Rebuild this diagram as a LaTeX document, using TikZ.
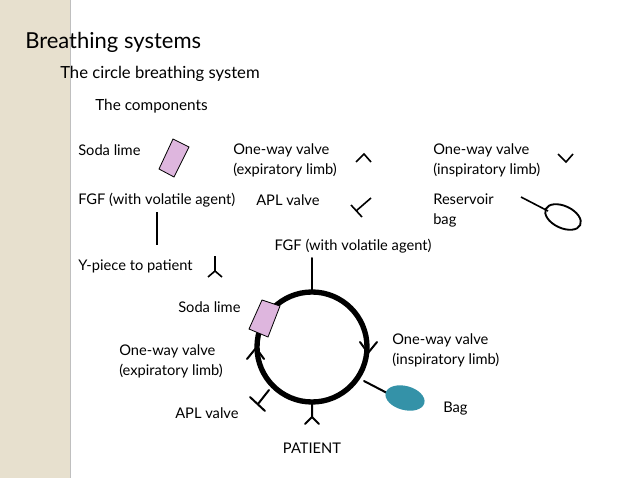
\documentclass[tikz,border=0pt]{standalone}
\usepackage{fontspec}
\setmainfont{Lato}
\usetikzlibrary{positioning}
\definecolor{strip}{RGB}{231,224,206}
\definecolor{lime}{RGB}{222,182,222}
\definecolor{bagcol}{RGB}{52,146,168}
\tikzset{%
  % Specifications for style of nodes:
  lbl/.style = {anchor=west, inner sep=0pt, font=\fontsize{11}{15}\selectfont, align=left},
  pipe/.style = {line width=1.5pt, line cap=round},
  valve/.style = {line width=1.2pt, line join=miter},
}
\begin{document}
\begin{tikzpicture}[x=0.75pt, y=-0.75pt]
  \useasboundingbox (0,0) rectangle (638,478);
  \fill[strip] (0,0) rectangle (70,478);
  \draw[black!25, line width=0.6pt] (70,0) -- (70,478);
  % Titles
  \node (title)[lbl, font=\fontsize{16.5}{18}\selectfont] at (25,42) {Breathing systems};
  \node (sub)[lbl, font=\fontsize{12.5}{14}\selectfont] at (60,74) {The circle breathing system};
  \node (comp)[lbl, font=\fontsize{11.5}{14}\selectfont] at (95,106) {The components};
  % Component legend
  \node (sl)[lbl] at (78,150) {Soda lime};
  \filldraw[lime, draw=black, line width=0.6pt] (159,169) -- (173,139) -- (189,147) -- (174,177) -- cycle;
  \node (ev)[lbl] at (233,160) {One-way valve\\(expiratory limb)};
  \draw[valve] (356,162) -- (364,154) -- (371,162);
  \node (iv)[lbl] at (433,160) {One-way valve\\(inspiratory limb)};
  \draw[valve] (558,154) -- (566,162) -- (573,154);
  \node (fgf)[lbl] at (78,200) {FGF (with volatile agent)};
  \draw[valve] (157,212) -- (157,245);
  \node (apl)[lbl] at (256,200) {APL valve};
  \draw[valve] (356,211) -- (371,198);
  \draw[valve] (351,205) -- (362,217);
  \node (res)[lbl] at (433,210) {Reservoir\\bag};
  \draw[valve] (521,197) -- (548,211);
  \draw[line width=1.4pt] (563,217) ellipse [x radius=19, y radius=11, rotate=-25];
  \node (yp)[lbl] at (78,266) {Y-piece to patient};
  \draw[valve] (215,256) -- (215,271) -- (208,277);
  \draw[valve] (215,271) -- (222,277);
  % Circle system
  \coordinate (c) at (312,347);
  \draw[line width=4pt] (c) circle [radius=55];
  \node (fgf2)[font=\fontsize{11}{13}\selectfont, inner sep=0pt] at (353,246) {FGF (with volatile agent)};
  \draw[pipe] (312,258) -- (312,292);
  \filldraw[lime, draw=black, line width=0.6pt] (249,329) -- (262,300) -- (280,306) -- (268,337) -- cycle;
  \draw[pipe] (360,342) -- (368,353) -- (377,342);
  \draw[pipe] (247,359) -- (256,348) -- (264,359);
  \draw[pipe] (269,390) -- (258,404);
  \draw[pipe] (250,397) -- (265,411);
  \draw[pipe] (312,402) -- (312,417) -- (305,424);
  \draw[pipe] (312,417) -- (319,424);
  \draw[pipe] (364,381) -- (389,394);
  \fill[bagcol] (405,398) ellipse [x radius=20, y radius=12, rotate=-15];
  \node (sl2)[lbl] at (178,307) {Soda lime};
  \node (ev2)[lbl] at (119,361) {One-way valve\\(expiratory limb)};
  \node (iv2)[lbl] at (392,350) {One-way valve\\(inspiratory limb)};
  \node (apl2)[lbl] at (175,413) {APL valve};
  \node (pat)[font=\fontsize{11}{13}\selectfont, inner sep=0pt] at (312,448) {PATIENT};
  \node (bag)[lbl] at (443,409) {Bag};
\end{tikzpicture}
\end{document}
